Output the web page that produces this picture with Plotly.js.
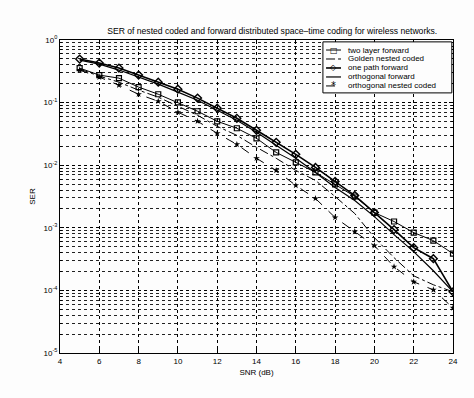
<!DOCTYPE html>
<html>
<head>
<meta charset="utf-8">
<script src="https://cdn.plot.ly/plotly-3.0.1.min.js"></script>
<style>html,body{margin:0;padding:0;background:#fdfdfd;}#chart{width:474px;height:398px;}</style>
</head>
<body>
<div id="chart"></div>
<script>
// SNR values (dB)
var snr = [5,6,7,8,9,10,11,12,13,14,15,16,17,18,19,20,21,22,23,24];

// SER series
var twoLayerForward = [0.356,0.275,0.246,0.177,0.136,0.101,0.0728,0.0503,0.0389,0.0269,0.0160,0.0111,0.00767,0.00493,0.00316,0.00175,0.00126,0.000838,0.000624,0.000386];
var goldenNested    = [0.343,0.265,0.212,0.158,0.122,0.0876,0.0628,0.0418,0.0300,0.0193,0.0129,0.00825,0.00571,0.00316,0.00169,0.000697,0.000333,0.000171,0.000123,0.0000950];
var onePathForward  = [0.496,0.428,0.356,0.275,0.212,0.164,0.118,0.0813,0.0562,0.0361,0.0232,0.0149,0.00922,0.00550,0.00328,0.00175,0.000936,0.000482,0.000321,0.0000950];
var orthoForward    = [0.478,0.412,0.331,0.255,0.197,0.147,0.109,0.0755,0.0522,0.0335,0.0208,0.0129,0.00767,0.00441,0.00273,0.00151,0.000778,0.000416,0.000206,0.0000950];
var orthoNested     = [0.331,0.255,0.190,0.136,0.105,0.0702,0.0503,0.0323,0.0215,0.0129,0.00825,0.00475,0.00294,0.00146,0.000869,0.000518,0.000239,0.000137,0.000102,0.0000526];

var seriesNames = ["two layer forward","Golden nested coded","one path forward","orthogonal forward","orthogonal nested coded"];

// tick labels
var xTicks = [4,6,8,10,12,14,16,18,20,22,24];
var yTickVals = [1e-5,1e-4,1e-3,1e-2,1e-1,1];
var yTickText = ["10<sup>-5</sup>","10<sup>-4</sup>","10<sup>-3</sup>","10<sup>-2</sup>","10<sup>-1</sup>","10<sup>0</sup>"];

var yMinorVals = [];
yTickVals.slice(0, 5).forEach(function(v){
  for (var m = 2; m <= 9; m++) yMinorVals.push(m * v);
});

var black = "#000";
var lineStyles = [
  {dash: "solid", width: 1},
  {dash: "dashdot", width: 1},
  {dash: "solid", width: 1.6},
  {dash: "solid", width: 1.2},
  {dash: "dash", width: 1}
];
var legendGlyphs = ["\u25A1", "", "\u25C7", "", "*"];

var traces = [
  {x: snr, y: twoLayerForward, name: seriesNames[0], mode: "lines+markers",
   line: {color: black, width: lineStyles[0].width, dash: lineStyles[0].dash},
   marker: {symbol: "square-open", size: 5, color: black, line: {width: 1.2, color: black}}},
  {x: snr, y: goldenNested, name: seriesNames[1], mode: "lines",
   line: {color: black, width: lineStyles[1].width, dash: lineStyles[1].dash}},
  {x: snr, y: onePathForward, name: seriesNames[2], mode: "lines+markers",
   line: {color: black, width: lineStyles[2].width, dash: lineStyles[2].dash},
   marker: {symbol: "diamond-open", size: 6, color: black, line: {width: 1.4, color: black}}},
  {x: snr, y: orthoForward, name: seriesNames[3], mode: "lines",
   line: {color: black, width: lineStyles[3].width, dash: lineStyles[3].dash}},
  {x: snr, y: orthoNested, name: seriesNames[4], mode: "lines+markers",
   line: {color: black, width: lineStyles[4].width, dash: lineStyles[4].dash},
   marker: {symbol: "star", size: 5, color: black}}
];

// compact boxed legend (Matlab style) built from the series names
var legX0 = 0.669, legX1 = 0.997, legY0 = 0.831, legY1 = 0.994;
var rowTop = 0.968, rowStep = 0.0287;
var sampleX0 = 0.677, sampleX1 = 0.715, glyphX = 0.697, textX = 0.728;
var shapes = [{type: "rect", xref: "paper", yref: "paper", x0: legX0, x1: legX1, y0: legY0, y1: legY1,
               fillcolor: "#fdfdfd", line: {color: black, width: 1}, layer: "above"}];
var annotations = [];
seriesNames.forEach(function(name, i){
  var yy = rowTop - i * rowStep;
  shapes.push({type: "line", xref: "paper", yref: "paper", x0: sampleX0, x1: sampleX1, y0: yy, y1: yy,
               line: {color: black, width: lineStyles[i].width, dash: lineStyles[i].dash}, layer: "above"});
  if (legendGlyphs[i]) {
    annotations.push({xref: "paper", yref: "paper", x: glyphX, y: yy, text: legendGlyphs[i], showarrow: false,
                      xanchor: "center", yanchor: "middle", font: {size: i === 4 ? 10 : 8, family: "DejaVu Sans", color: black},
                      bgcolor: "rgba(0,0,0,0)"});
  }
  annotations.push({xref: "paper", yref: "paper", x: textX, y: yy, text: name, showarrow: false,
                    xanchor: "left", yanchor: "middle", font: {size: 8, color: black}});
});

var layout = {
  width: 474, height: 398,
  paper_bgcolor: "#fdfdfd", plot_bgcolor: "#fdfdfd",
  margin: {l: 60, r: 21, t: 40, b: 45},
  font: {family: "Liberation Sans, Arial, sans-serif", size: 8, color: black},
  title: {text: "SER of nested coded and forward distributed space\u2013time coding for wireless networks.",
          font: {size: 8.6, color: black}, x: 0.54, xref: "paper", xanchor: "center",
          y: 0.922, yref: "container", yanchor: "middle"},
  showlegend: false,
  shapes: shapes,
  annotations: annotations,
  xaxis: {range: [4, 24], tickvals: xTicks, ticks: "inside", ticklen: 4, tickcolor: black,
          showline: true, linecolor: black, linewidth: 1, mirror: "ticks",
          showgrid: true, gridcolor: black, griddash: "dot", gridwidth: 1, zeroline: false,
          title: {text: "SNR (dB)", font: {size: 8}, standoff: 4}, tickfont: {size: 8}},
  yaxis: {type: "log", range: [-5, 0], tickvals: yTickVals, ticktext: yTickText,
          ticks: "inside", ticklen: 4, tickcolor: black,
          showline: true, linecolor: black, linewidth: 1, mirror: "ticks",
          showgrid: true, gridcolor: black, griddash: "dot", gridwidth: 1, zeroline: false,
          minor: {tickvals: yMinorVals, ticks: "inside", ticklen: 2, tickcolor: black,
                  showgrid: true, gridcolor: "#222", griddash: "dot", gridwidth: 1},
          title: {text: "SER", font: {size: 8}, standoff: 6}, tickfont: {size: 8}}
};

Plotly.newPlot("chart", traces, layout, {displayModeBar: false, staticPlot: true});
</script>
</body>
</html>
